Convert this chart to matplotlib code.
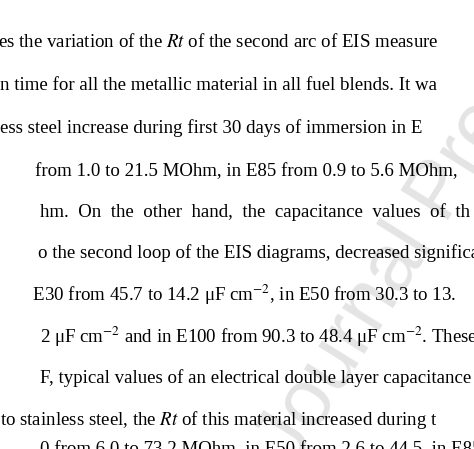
import matplotlib
matplotlib.use('Agg')
import matplotlib.pyplot as plt

plt.rcParams['font.family'] = ['Liberation Serif', 'DejaVu Serif']
plt.rcParams['mathtext.fontset'] = 'stix'

# text lines of the cropped page, with left offset (px) and vertical centre (px)
lines = [
    r"es the variation of the $\it{Rt}$ of the second arc of EIS measure",
    "n time for all the metallic material in all fuel blends. It wa",
    "ess steel increase during first 30 days of immersion in E",
    "from 1.0 to 21.5 MOhm, in E85 from 0.9 to 5.6 MOhm,",
    "hm.  On  the  other  hand,  the  capacitance  values  of  th",
    "o the second loop of the EIS diagrams, decreased significa",
    r" E30 from 45.7 to 14.2 μF cm$^{-2}$, in E50 from 30.3 to 13.",
    r"2 μF cm$^{-2}$ and in E100 from 90.3 to 48.4 μF cm$^{-2}$. These",
    "F, typical values of an electrical double layer capacitance",
    r"to stainless steel, the $\it{Rt}$ of this material increased during t",
    "0 from 6.0 to 73.2 MOhm, in E50 from 2.6 to 44.5, in E85",
]
x_px = [-2, 0, 0, 35, 40, 38, 28, 40, 40, 0, 40]
y_px = [42, 86, 128, 172, 212, 253, 295, 337, 378, 420, 450]

W, H = 474, 449
fig = plt.figure(figsize=(W / 100, H / 100), dpi=100)
fig.patch.set_facecolor('white')

fig.text(0.93, 0.57, "Journal Pre-proof", rotation=58, fontsize=58,
         color='#e4e4e4', ha='center', va='center',
         family=['Liberation Sans', 'DejaVu Sans'], zorder=0)

for s, x, y in zip(lines, x_px, y_px):
    fig.text(x / W, 1 - y / H, s, fontsize=13.6, color='black',
             ha='left', va='center', zorder=2)

fig.savefig('out.png', dpi=100)
